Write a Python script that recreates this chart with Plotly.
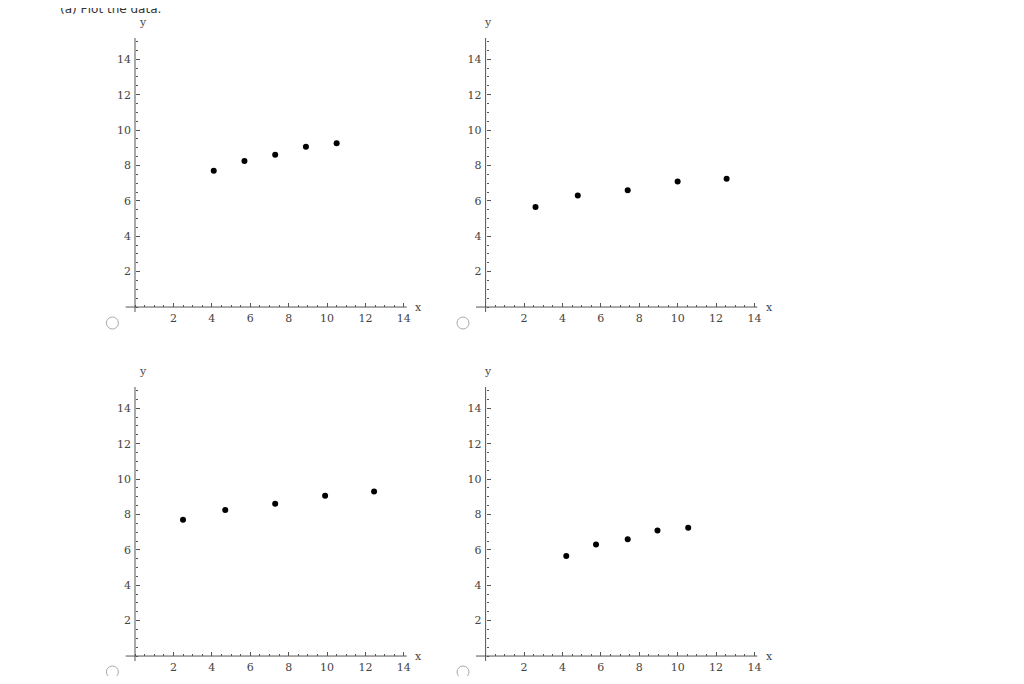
import plotly.graph_objects as go

# data
tl_x = [4.1, 5.7, 7.3, 8.9, 10.5]
tl_y = [7.7, 8.25, 8.6, 9.05, 9.25]
tr_x = [2.6, 4.8, 7.4, 10.0, 12.55]
tr_y = [5.65, 6.3, 6.6, 7.1, 7.25]
bl_x = [2.5, 4.7, 7.3, 9.9, 12.45]
bl_y = [7.7, 8.25, 8.6, 9.05, 9.3]
br_x = [4.2, 5.75, 7.4, 8.95, 10.55]
br_y = [5.65, 6.3, 6.6, 7.1, 7.25]
tick_vals = [2, 4, 6, 8, 10, 12, 14]

OFF = 8  # page body margin
W, H = 1008, 668


def px(x):
    return (x - OFF) / W


def py(y):
    return 1 - (y - OFF) / H


XR = [-0.5, 14.32]
YR = [-0.28, 15.37]
panels = [(125.4, 35, tl_x, tl_y), (476, 35, tr_x, tr_y),
          (125.4, 384, bl_x, bl_y), (476, 384, br_x, br_y)]
pw, ph = 284.6, 277

fig = go.Figure()
font = dict(family="DejaVu Serif, Liberation Serif, serif", size=11, color="#444")
axc = "#555"
lay = {}
for i, (lx, ty, xs, ys) in enumerate(panels):
    n = "" if i == 0 else str(i + 1)
    xd = [px(lx), px(lx + pw)]
    yd = [py(ty + ph), py(ty)]
    fig.add_trace(go.Scatter(x=xs, y=ys, mode="markers",
                             marker=dict(color="black", size=6),
                             xaxis="x" + n, yaxis="y" + n, showlegend=False,
                             cliponaxis=False))
    ypos = yd[0] + (0 - YR[0]) / (YR[1] - YR[0]) * (yd[1] - yd[0])
    xpos = xd[0] + (0 - XR[0]) / (XR[1] - XR[0]) * (xd[1] - xd[0])
    lay["xaxis" + n] = dict(domain=xd, range=XR, anchor="free", position=ypos,
                            showgrid=False, zeroline=False, showline=False,
                            tickvals=tick_vals, ticks="inside", ticklen=4,
                            tickcolor=axc, tickfont=font, ticklabelstandoff=3,
                            minor=dict(dtick=0.5, tick0=0, ticks="inside", ticklen=2, tickcolor=axc))
    lay["yaxis" + n] = dict(domain=yd, range=YR, anchor="free", position=xpos,
                            showgrid=False, zeroline=False, showline=False,
                            tickvals=tick_vals, ticks="inside", ticklen=4,
                            tickcolor=axc, tickfont=font, ticklabelstandoff=4,
                            minor=dict(dtick=0.5, tick0=0, ticks="inside", ticklen=2, tickcolor=axc))
    xr = "x" + n
    yr = "y" + n
    fig.add_shape(type="line", xref=xr, yref=yr, x0=XR[0], x1=14.15, y0=0, y1=0,
                  line=dict(color=axc, width=1))
    fig.add_shape(type="line", xref=xr, yref=yr, x0=0, x1=0, y0=YR[0], y1=15.2,
                  line=dict(color=axc, width=1))
    fig.add_annotation(xref="paper", yref="paper", x=px(lx + 288), y=py(ty + 272),
                       text="x", showarrow=False, xanchor="left", yanchor="middle", font=font)
    fig.add_annotation(xref="paper", yref="paper", x=px(lx + 11.5), y=py(ty - 13),
                       text="y", showarrow=False, yanchor="middle", font=font)
    cx, cy = lx - 13, ty + 288
    fig.add_shape(type="circle", xref="paper", yref="paper",
                  x0=px(cx - 6), x1=px(cx + 6), y0=py(cy + 6), y1=py(cy - 6),
                  line=dict(color="#aaa", width=1))

fig.add_annotation(xref="paper", yref="paper", x=px(58), y=py(0), text="(a) Plot the data.",
                   showarrow=False, xanchor="left", yanchor="top",
                   font=dict(family="Verdana, DejaVu Sans, sans-serif", size=12, color="#333"))
fig.update_layout(**lay, width=W, height=H, margin=dict(l=0, r=0, t=0, b=0),
                  plot_bgcolor="white", paper_bgcolor="white")
fig.write_html("out.html")
